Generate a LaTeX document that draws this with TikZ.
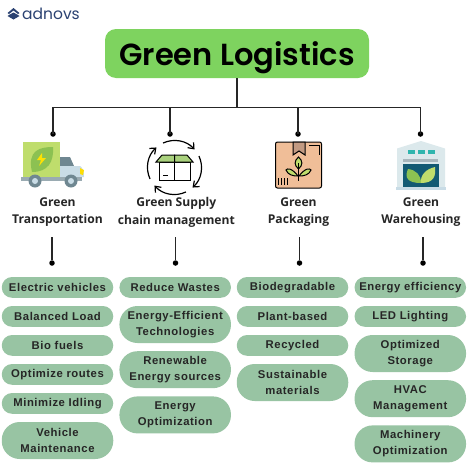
\documentclass[tikz,border=0pt]{standalone}
\usepackage{fontspec}
\usepackage{xcolor}
\usepackage{tikz}
\usetikzlibrary{arrows.meta,positioning}
\setmainfont{Open Sans}
\newfontfamily\titlefont{Poppins SemiBold}
\newfontfamily\logofont{Poppins}
\newfontfamily\pillfont[LetterSpace=5]{Liberation Sans}
\definecolor{glgreen}{HTML}{7ED35F}
\definecolor{glpill}{HTML}{98C4A3}
\definecolor{glnavy}{HTML}{2B4272}
\definecolor{gllime}{HTML}{BFDD6C}
\definecolor{glleaf}{HTML}{8CC152}
\definecolor{glsteel}{HTML}{C9DCE6}
\definecolor{glslate}{HTML}{6F8791}
\definecolor{glkraft}{HTML}{F0BE98}
\definecolor{glbrown}{HTML}{A86F4C}
\definecolor{glwall}{HTML}{DCE9EC}
\definecolor{glteal}{HTML}{2FB5AE}
\definecolor{gldoor}{HTML}{125A73}
\tikzset{
  branchline/.style={line width=1.2pt, draw=black!85},
  stemline/.style={line width=1.2pt, draw=black!85},
  enddot/.style={circle, fill=black, inner sep=0pt, minimum size=5.5pt},
  titlebox/.style={fill=glgreen, rounded corners=11pt, minimum width=264pt,
    text height=36pt, text depth=13pt,
    inner sep=0pt, font=\titlefont\fontsize{30.5}{36}\selectfont},
  catlabel/.style={align=center, inner sep=0pt, text=black!85,
    font=\bfseries\fontsize{12.1}{17.5}\selectfont},
  pill/.style={fill=glpill, rounded corners=10.3pt, minimum width=111.5pt, minimum height=20.8pt,
    inner sep=0pt, outer sep=0pt, align=center, text=black!85,
    font=\pillfont\bfseries\fontsize{11.3}{16.3}\selectfont},
  tallpill/.style={pill, rounded corners=18pt, minimum height=37pt},
  cyclearrow/.style={-{Straight Barb[length=5pt,width=8pt]}, line width=1.2pt, draw=black},
  iconline/.style={line width=1pt, draw=black}
}
\begin{document}
\begin{tikzpicture}[x=1pt, y=-1pt, node distance=8.2pt]
  \useasboundingbox (0,0) rectangle (474,474);
  \fill[white] (0,0) rectangle (474,474);

  \node[inner sep=0pt, text=glnavy, font=\logofont\fontsize{15.5}{16}\selectfont] (logo) at (51,13.5) {adnovs};
  \fill[glnavy] (7.5,13) -- (13.5,8) -- (19.5,13) -- (18,14) -- (13.5,10.5) -- (9,14) -- cycle;
  \fill[glnavy] (7.5,16) -- (9,15) -- (13.5,12.5) -- (18,15) -- (19.5,16) -- (13.5,19.5) -- cycle;

  \node[titlebox] (title) at (237,53.5) {Green Logistics};

  \node[enddot] (dotA) at (53,134) {};
  \node[enddot] (dotB) at (170,134) {};
  \node[enddot] (dotC) at (298,134) {};
  \node[enddot] (dotD) at (420.5,134) {};
  \draw[branchline] (title.south) -- ++(0,29) -| (dotA.center);
  \draw[branchline] (title.south) -- ++(0,29) -| (dotB.center);
  \draw[branchline] (title.south) -- ++(0,29) -| (dotC.center);
  \draw[branchline] (title.south) -- ++(0,29) -| (dotD.center);

  % truck
  \fill[gllime] (23,142) rectangle (60,177);
  \fill[glleaf] (32,172) .. controls (27,150) and (40,147) .. (53,147) .. controls (54,162) and (48,172) .. (32,172) -- cycle;
  \fill[yellow!85!orange] (42,153) -- (37,160) -- (41,160) -- (39,166) -- (46,158) -- (42,158) -- cycle;
  \fill[glslate] (60,157) -- (70,157) -- (74,166) -- (60,166) -- cycle;
  \fill[glsteel] (60,166) -- (80,166) .. controls (83,168) and (84,172) .. (84,177) -- (60,177) -- cycle;
  \fill[yellow!80!orange] (80,168) -- (84,170) -- (83,175) -- (80,174) -- cycle;
  \fill[glslate!70] (21,177) rectangle (82,181);
  \fill[glslate] (35,181) circle[radius=6.5pt];
  \fill[glsteel] (35,181) circle[radius=3pt];
  \fill[glslate] (71,181) circle[radius=6.5pt];
  \fill[glsteel] (71,181) circle[radius=3pt];

  % box with cycle
  \coordinate (cyc) at (174.5,167.5);
  \draw[cyclearrow] ([shift={(115:27pt)}]cyc) arc[start angle=115, end angle=42, radius=27pt];
  \draw[cyclearrow] ([shift={(25:27pt)}]cyc) arc[start angle=25, end angle=-48, radius=27pt];
  \draw[cyclearrow] ([shift={(-65:27pt)}]cyc) arc[start angle=-65, end angle=-138, radius=27pt];
  \draw[cyclearrow] ([shift={(205:27pt)}]cyc) arc[start angle=205, end angle=132, radius=27pt];
  \draw[iconline, fill=white] (159,162) rectangle (190,180.5);
  \draw[iconline] (174.5,162) -- (174.5,180.5);
  \draw[iconline] (163,175.5) -- (168,175.5);
  \draw[iconline, fill=glleaf!75] (162,155) -- (174.5,155) -- (174.5,162) -- (156,162) -- cycle;
  \draw[iconline, fill=glleaf!75] (174.5,162) -- (174.5,155) -- (187,155) -- (193,162) -- cycle;

  % package
  \draw[iconline, fill=glkraft, rounded corners=2pt] (275.5,142) rectangle (321.5,188);
  \draw[iconline, fill=glbrown!70] (293,142) -- (293,155) -- (299,151) -- (305,155) -- (305,142) -- cycle;
  \draw[iconline] (309,145) -- (319,145) -- (319,155);
  \draw[iconline] (278.5,178) -- (278.5,185);
  \draw[iconline] (281.5,178) -- (281.5,185);
  \draw[iconline] (284.5,178) -- (284.5,185);
  \draw[iconline] (287.5,178) -- (287.5,185);
  \draw[iconline, fill=gllime] (298.5,157) .. controls (294,161) and (294,165) .. (298.5,169) .. controls (303,165) and (303,161) .. (298.5,157) -- cycle;
  \draw[iconline, fill=gllime] (298,176) .. controls (292,168) and (287,168) .. (286,170) .. controls (288,175) and (293,176) .. (298,176) -- cycle;
  \draw[iconline, fill=gllime] (299,176) .. controls (305,168) and (310,168) .. (311,170) .. controls (309,175) and (304,176) .. (299,176) -- cycle;
  \draw[iconline] (298.5,163) -- (298.5,181);

  % warehouse
  \fill[glwall] (397,148.5) -- (421,141) -- (445,148.5) -- (445,187) -- (397,187) -- cycle;
  \fill[glsteel] (396,187) rectangle (446,190);
  \fill[glteal] (407.5,150) rectangle (414.5,153.5);
  \fill[glteal] (417.5,150) rectangle (424.5,153.5);
  \fill[glteal] (427.5,150) rectangle (434.5,153.5);
  \fill[glslate!60] (403,159) rectangle (438,162);
  \fill[gldoor] (403,164) rectangle (439,187);
  \fill[glleaf] (421,183) .. controls (408,183) and (404,178) .. (408,169) .. controls (416,170) and (421,175) .. (421,183) -- cycle;
  \fill[gllime] (421,183) .. controls (434,183) and (436,176) .. (435,167) .. controls (426,169) and (420,175) .. (421,183) -- cycle;

  \node[catlabel] (labelA) at (57.5,212.3) {Green\\Transportation};
  \node[catlabel] (labelB) at (176.3,212.3) {Green Supply\\chain management};
  \node[catlabel] (labelC) at (298.5,212.3) {Green\\Packaging};
  \node[catlabel] (labelD) at (421,212.3) {Green\\Warehousing};

  \node[enddot] (stemA) at (52,263) {};
  \node[enddot] (stemB) at (175.5,263) {};
  \node[enddot] (stemC) at (299.5,263) {};
  \node[enddot] (stemD) at (423,263) {};
  \coordinate (topA) at (52,237);
  \coordinate (topB) at (175.5,237);
  \coordinate (topC) at (299.5,237);
  \coordinate (topD) at (423,237);
  \draw[stemline] (topA) -- (stemA);
  \draw[stemline] (topB) -- (stemB);
  \draw[stemline] (topC) -- (stemC);
  \draw[stemline] (topD) -- (stemD);

  \node[pill] (a1) at (57.5,287.4) {Electric vehicles};
  \node[pill, below=of a1] (a2) {Balanced Load};
  \node[pill, below=of a2] (a3) {Bio fuels};
  \node[pill, below=of a3] (a4) {Optimize routes};
  \node[pill, below=of a4] (a5) {Minimize Idling};
  \node[tallpill, below=of a5] (a6) {Vehicle\\Maintenance};

  \node[pill] (b1) at (175.2,287.4) {Reduce Wastes};
  \node[tallpill, below=of b1] (b2) {Energy-Efficient\\Technologies};
  \node[tallpill, below=of b2] (b3) {Renewable\\Energy sources};
  \node[tallpill, below=of b3] (b4) {Energy\\Optimization};

  \node[pill] (c1) at (292.5,287.4) {Biodegradable};
  \node[pill, below=of c1] (c2) {Plant-based};
  \node[pill, below=of c2] (c3) {Recycled};
  \node[tallpill, below=of c3] (c4) {Sustainable\\materials};

  \node[pill] (d1) at (410.3,287.4) {Energy efficiency};
  \node[pill, below=of d1] (d2) {LED Lighting};
  \node[tallpill, below=of d2] (d3) {Optimized\\Storage};
  \node[tallpill, below=of d3] (d4) {HVAC\\Management};
  \node[tallpill, below=of d4] (d5) {Machinery\\Optimization};
\end{tikzpicture}
\end{document}
